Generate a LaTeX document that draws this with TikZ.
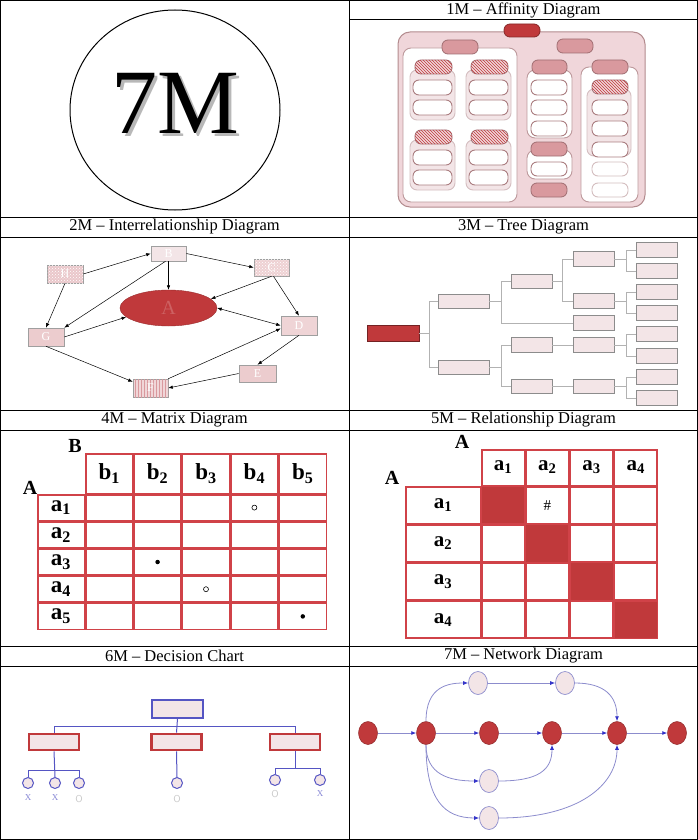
\documentclass[tikz,border=0pt]{standalone}
\usepackage{fontspec}
\setmainfont{Liberation Serif}
\usetikzlibrary{shapes.geometric,arrows.meta,patterns}

\definecolor{qred}{RGB}{192,57,59}
\definecolor{gridred}{RGB}{208,66,72}
\definecolor{lpink}{RGB}{243,229,231}
\definecolor{mpink}{RGB}{240,214,218}
\definecolor{dpink}{RGB}{217,153,158}
\definecolor{pinkedge}{RGB}{160,110,114}
\definecolor{netline}{RGB}{140,140,205}
\definecolor{tipblue}{RGB}{50,50,200}
\definecolor{dblue}{RGB}{85,85,195}

\tikzset{
  ttl/.style={font=\fontsize{16.5}{18}\selectfont, inner sep=0pt},
  % affinity
  affbg/.style={rounded corners=12, fill=mpink, draw=pinkedge!80, line width=1},
  affwhite/.style={rounded corners=8, fill=white, draw=pinkedge!70, line width=0.9},
  affcard/.style={rounded corners=7, fill=lpink, draw=pinkedge!45, line width=0.9},
  affpill/.style={rounded corners=6, fill=white, draw=pinkedge!90, line width=0.9},
  afffaint/.style={affpill, draw=pinkedge!45},
  affhead/.style={rounded corners=6, fill=dpink, draw=pinkedge, line width=0.8},
  affhatch/.style={rounded corners=6, fill=mpink, draw=pinkedge, line width=0.8,
    postaction={pattern=north west lines, pattern color=qred}},
  affred/.style={rounded corners=6, fill=qred, draw=qred!70!black, line width=0.8},
  % interrelationship
  irbox/.style={draw=gray!75, line width=0.6, minimum width=36, minimum height=18,
    inner sep=0pt, text=white, font=\fontsize{12}{12}\selectfont},
  irarrow/.style={-{Latex[length=4.5pt,width=3.5pt]}, line width=0.5},
  % tree
  treebox/.style={draw=gray!90, line width=0.8, fill=lpink, minimum width=41,
    minimum height=14.5, inner sep=0pt},
  treeline/.style={draw=gray!60, line width=0.9},
  % matrices
  mxcell/.style={fill=white, inner sep=0pt},
  mxlab/.style={font=\fontsize{23}{23}\selectfont\bfseries},
  relab/.style={font=\fontsize{21}{21}\selectfont\bfseries},
  bigletter/.style={font=\fontsize{20}{20}\selectfont\bfseries, inner sep=0pt},
  opendot/.style={circle, draw, line width=0.6, minimum size=5, inner sep=0pt},
  fulldot/.style={circle, fill, minimum size=4.5, inner sep=0pt},
  % decision chart
  dline/.style={draw=dblue, line width=1},
  dtopbox/.style={draw=dblue, line width=1.1, fill=lpink, minimum width=51,
    minimum height=18, inner sep=0pt},
  dmidbox/.style={draw=qred, line width=2.6, fill=lpink, minimum width=50,
    minimum height=16, inner sep=0pt},
  dcirc/.style={circle, draw=dblue, line width=1, fill=lpink, minimum size=11, inner sep=0pt},
  xmark/.style={text=dblue!70, font=\fontsize{9}{9}\selectfont, inner sep=0pt},
  omark/.style={text=gray!45, font=\sffamily\fontsize{10}{10}\selectfont, inner sep=0pt},
  % network
  rnode/.style={ellipse, fill=qred, draw=qred!75!black, line width=0.5,
    minimum width=19, minimum height=23, inner sep=0pt},
  pnode/.style={ellipse, fill=lpink, draw=netline, line width=0.7,
    minimum width=19, minimum height=23, inner sep=0pt},
  netarrow/.style={draw=netline, line width=0.8,
    -{Latex[length=5pt,width=4pt,color=tipblue]}},
}

\begin{document}
\begin{tikzpicture}[x=1pt,y=-1pt]
\useasboundingbox (0,0) rectangle (698,840);

% table frame
\draw[line width=1] (0.5,0.5) rectangle (697.5,839.5);
\draw[line width=1] (349,0) -- (349,840);
\draw[line width=1] (349,20) -- (698,20);
\foreach \yy in {217,237,410,430,646,666}
  \draw[line width=1] (0,\yy) -- (698,\yy);

% titles
\node[ttl] (ttla) at (523.5,10) {1M – Affinity Diagram};
\node[ttl] (ttlb) at (174.5,227) {2M – Interrelationship Diagram};
\node[ttl] (ttlc) at (523.5,227) {3M – Tree Diagram};
\node[ttl] (ttld) at (174.5,420) {4M – Matrix Diagram};
\node[ttl] (ttle) at (523.5,420) {5M – Relationship Diagram};
\node[ttl] (ttlf) at (174.5,656) {6M – Decision Chart};
\node[ttl] (ttlg) at (523.5,656) {7M – Network Diagram};

% 7M emblem
\node[ellipse, draw, line width=1, minimum width=210, minimum height=200] (ring) at (175,110) {};
\node[anchor=base, text=black!28, font=\fontsize{92}{92}\selectfont] (shadow) at (178,136) {7M};
\node[anchor=base, font=\fontsize{92}{92}\selectfont] (seven) at (175,133) {7M};

% 1M affinity diagram
\draw[affbg] (398,32) rectangle (645,207);
\draw[affred] (504,24) rectangle (540,37);
\draw[affwhite] (403,48) rectangle (517,202);
\draw[affhead] (442,40) rectangle (478,54);
\foreach \dx/\dy in {0/0, 56/0, 0/70, 56/70} {
  \draw[affcard] (410+\dx,70+\dy) rectangle (455+\dx,120+\dy);
  \draw[affhatch] (415+\dx,60+\dy) rectangle (452+\dx,74+\dy);
  \draw[affpill] (413+\dx,80+\dy) rectangle (452+\dx,95+\dy);
  \draw[affpill] (413+\dx,100+\dy) rectangle (452+\dx,115+\dy);
}
\draw[affhead] (557,39) rectangle (593,53);
\draw[affwhite] (527,70) rectangle (572,138);
\draw[affhead] (532,60) rectangle (567,74);
\foreach \yy in {80,100,121}
  \draw[affpill] (531,\yy) rectangle (567,\yy+15);
\draw[affwhite] (527,150) rectangle (572,179);
\draw[affhead] (531,142) rectangle (567,156);
\draw[affpill] (531,162) rectangle (567,176);
\draw[affhead] (531,183) rectangle (567,197);
\draw[affwhite] (581,67) rectangle (638,202);
\draw[affhead] (592,60) rectangle (628,74);
\draw[affcard] (587,89) rectangle (631,156);
\draw[affhatch] (592,80) rectangle (628,94);
\foreach \yy in {100,121,142}
  \draw[affpill] (592,\yy) rectangle (628,\yy+15);
\foreach \yy in {162,183}
  \draw[afffaint] (592,\yy) rectangle (628,\yy+14);

% 2M interrelationship diagram
\node[irbox, fill=lpink, minimum width=35, minimum height=15] (B) at (168.5,253.5) {B};
\node[irbox, fill=dpink!55, postaction={pattern=crosshatch dots, pattern color=white}] (H) at (65,274) {H};
\node[irbox, fill=dpink!45, minimum width=35, minimum height=17,
  postaction={pattern=crosshatch dots, pattern color=white}] (C) at (271.5,267.5) {C};
\node[ellipse, fill=qred, draw=qred!80!black, minimum width=97, minimum height=36,
  text=qred!80!white, font=\fontsize{20}{20}\selectfont] (A) at (168.5,308) {A};
\node[irbox, fill=dpink!50] (G) at (46,337) {G};
\node[irbox, fill=dpink!42, minimum height=19] (D) at (299,325.5) {D};
\node[irbox, fill=dpink!50, minimum width=37, minimum height=17] (E) at (257.5,373.5) {E};
\node[irbox, fill=dpink!40, minimum width=35,
  postaction={pattern=vertical lines, pattern color=dpink}] (F) at (150.5,388) {F};
\draw[irarrow] (H.east) -- (B.west);
\draw[irarrow] (B.east) -- (C.west);
\draw[irarrow] (B.south) -- (A.north);
\draw[irarrow] ([xshift=-3pt]B.south) -- (G.north east);
\draw[irarrow] (H.south) -- (G.north);
\draw[irarrow] (C.south) -- (A.12);
\draw[irarrow] ([xshift=2pt]C.south) -- (D.north);
\draw[{Latex[length=4.5pt,width=3.5pt]}-{Latex[length=4.5pt,width=3.5pt]}, line width=0.5] (A.east) -- (D.west);
\draw[irarrow] (G.east) -- (A.192);
\draw[irarrow] (G.south) -- ([yshift=-3pt]F.north west);
\draw[irarrow] (F.north east) -- ([yshift=-3pt]D.west);
\draw[irarrow] (D.south) -- (E.north);
\draw[irarrow] (E.west) -- (F.east);

% 3M tree diagram
\node[treebox, fill=qred, draw=qred!60!black, minimum width=52, minimum height=16] (root) at (393,333) {};
\node[treebox, minimum width=51, minimum height=14] (ka) at (463.5,301) {};
\node[treebox, minimum width=51, minimum height=14] (kb) at (463.5,367) {};
\node[treebox] (kaa) at (531.5,281.5) {};
\node[treebox] (kab) at (593.5,323) {};
\node[treebox] (kba) at (531.5,345) {};
\node[treebox] (kbb) at (531.5,386.5) {};
\node[treebox] (mida) at (593.5,259) {};
\node[treebox] (midb) at (593.5,301) {};
\node[treebox] (midc) at (593.5,345) {};
\node[treebox] (midd) at (593.5,386.5) {};
\foreach \yy [count=\n] in {250,271,292,313,334,356,377,398}
  \node[treebox] (leaf\n) at (656.5,\yy) {};
\draw[treeline] (root.east) -- ++(10,0) |- (ka.west);
\draw[treeline] (root.east) -- ++(10,0) |- (kb.west);
\draw[treeline] (ka.east) -- ++(12,0) |- (kaa.west);
\draw[treeline] (ka.east) -- ++(12,0) |- (kab.west);
\draw[treeline] (kb.east) -- ++(12,0) |- (kba.west);
\draw[treeline] (kb.east) -- ++(12,0) |- (kbb.west);
\draw[treeline] (kaa.east) -- ++(10,0) |- (mida.west);
\draw[treeline] (kaa.east) -- ++(10,0) |- (midb.west);
\draw[treeline] (kba.east) -- (midc.west);
\draw[treeline] (kbb.east) -- (midd.west);
\draw[treeline] (mida.east) -- ++(12,0) |- (leaf1.west);
\draw[treeline] (mida.east) -- ++(12,0) |- (leaf2.west);
\draw[treeline] (midb.east) -- ++(12,0) |- (leaf3.west);
\draw[treeline] (midb.east) -- ++(12,0) |- (leaf4.west);
\draw[treeline] (midc.east) -- ++(12,0) |- (leaf5.west);
\draw[treeline] (midc.east) -- ++(12,0) |- (leaf6.west);
\draw[treeline] (midd.east) -- ++(12,0) |- (leaf7.west);
\draw[treeline] (midd.east) -- ++(12,0) |- (leaf8.west);

% 4M matrix diagram
\node[bigletter] (mxB) at (75,446) {B};
\node[bigletter] (mxA) at (30,488) {A};
\fill[gridred] (85,453) rectangle (327,494);
\fill[gridred] (37,494) rectangle (327,630);
\foreach \j in {1,...,5}
  \node[mxcell, mxlab, minimum width=45.4, minimum height=38] (mb\j)
    at ({85+48.4*(\j-0.5)},473.5) {b\textsubscript{\j}};
\foreach \i in {1,...,5} {
  \node[mxcell, mxlab, minimum width=45, minimum height=24.2] (ma\i)
    at (61,{494+27.2*(\i-0.5)}) {a\textsubscript{\i}};
  \foreach \j in {1,...,5}
    \node[mxcell, minimum width=45.4, minimum height=24.2] (m\i\j)
      at ({85+48.4*(\j-0.5)},{494+27.2*(\i-0.5)}) {};
}
\node[opendot] (mk14) at (m14) {};
\node[fulldot] (mk32) at (m32) {};
\node[opendot] (mk43) at (m43) {};
\node[fulldot] (mk55) at (m55) {};

% 5M relationship diagram
\node[bigletter] (reAt) at (462,442) {A};
\node[bigletter] (reAl) at (392,478) {A};
\fill[gridred] (481,449) rectangle (658,486);
\fill[gridred] (405,486) rectangle (658,639);
\foreach \j in {1,...,4}
  \node[mxcell, relab, minimum width=41.2, minimum height=34] (rb\j)
    at ({481+44.25*(\j-0.5)},467.5) {a\textsubscript{\j}};
\foreach \i in {1,...,4} {
  \node[mxcell, relab, minimum width=73, minimum height=35.2] (ra\i)
    at (443,{486+38.25*(\i-0.5)}) {a\textsubscript{\i}};
  \foreach \j in {1,...,4}
    \node[mxcell, minimum width=41.2, minimum height=35.2] (r\i\j)
      at ({481+44.25*(\j-0.5)},{486+38.25*(\i-0.5)}) {};
  \node[fill=qred, inner sep=0pt, minimum width=42, minimum height=36.5] (rd\i)
    at ({481+44.25*(\i-0.5)},{486+38.25*(\i-0.5)}) {};
}
\node[font=\fontsize{15}{15}\selectfont] (hash) at (r12) {\#};

% 6M decision chart
\node[dtopbox] (dtop) at (177.5,709) {};
\node[dmidbox] (dl) at (54,742) {};
\node[dmidbox] (dm) at (176.5,742) {};
\node[dmidbox] (dr) at (295,742) {};
\node[dcirc] (ca) at (28,783) {};
\node[dcirc] (cb) at (55,783) {};
\node[dcirc] (cc) at (79,783) {};
\node[dcirc] (cd) at (177,783) {};
\node[dcirc] (ce) at (275,780) {};
\node[dcirc] (cf) at (320,780) {};
\draw[dline] (dtop.south) -- (dm.north);
\draw[dline] (dl.north) -- ++(0,-6) -| (dr.north);
\draw[dline] (dl.south) -- (cb.north);
\draw[dline] (ca.north) -- ++(0,-6.5) -| (cc.north);
\draw[dline] (dm.south) -- (cd.north);
\draw[dline] (dr.south) -- ([yshift=6pt]dr.south |- ce.north);
\draw[dline] (ce.north) -- ++(0,-6) -| (cf.north);
\node[xmark] (xa) at (28,798) {X};
\node[xmark] (xb) at (55,798) {X};
\node[omark] (oc) at (79,799) {O};
\node[omark] (od) at (177,799) {O};
\node[omark] (oe) at (275,794) {O};
\node[xmark] (xf) at (320,794) {X};

% 7M network diagram
\node[rnode] (nw1) at (368,733) {};
\node[rnode] (nw2) at (426,733) {};
\node[rnode] (nw3) at (489,733) {};
\node[rnode] (nw4) at (552,733) {};
\node[rnode] (nw5) at (617,733) {};
\node[rnode] (nw6) at (677,733) {};
\node[pnode] (nt1) at (478,683) {};
\node[pnode] (nt2) at (565,683) {};
\node[pnode] (nl1) at (489,781) {};
\node[pnode] (nl2) at (489,818) {};
\draw[netarrow] (nw1) -- (nw2);
\draw[netarrow] (nw2) -- (nw3);
\draw[netarrow] (nw3) -- (nw4);
\draw[netarrow] (nw4) -- (nw5);
\draw[netarrow] (nw5) -- (nw6);
\draw[netarrow] (nt1) -- (nt2);
\draw[netarrow] (nw2.north) .. controls +(0,-35) and +(-20,0) .. (nt1.west);
\draw[netarrow] (nt2.east) .. controls +(30,0) and +(0,-25) .. (nw5.north);
\draw[netarrow] (nw2.south) .. controls +(0,30) and +(-30,0) .. (nl1.west);
\draw[netarrow] (nw2.south) .. controls +(0,55) and +(-35,0) .. (nl2.west);
\draw[netarrow] (nl1.east) .. controls +(40,0) and +(0,25) .. (nw4.south);
\draw[netarrow] (nl2.east) .. controls +(80,0) and +(0,40) .. (nw5.south);
\end{tikzpicture}
\end{document}
